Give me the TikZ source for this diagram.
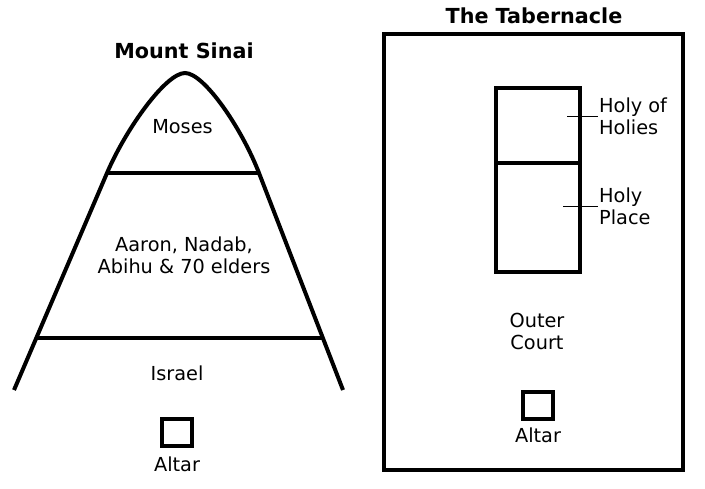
\documentclass[tikz,border=0pt]{standalone}
\usepackage{fontspec}
\setmainfont{DejaVu Sans}
\usetikzlibrary{
    positioning
}
\tikzset{
    heading/.style = {
        font=\fontsize{20.7}{24}\selectfont\bfseries,
        anchor=base,
        inner sep=0pt
    },
    tag/.style = {
        font=\fontsize{19.3}{22}\selectfont,
        align=center,
        inner sep=1pt
    },
    sidetag/.style = {
        tag,
        align=left,
        anchor=west
    },
    wall/.style = {
        line width=4pt
    },
    altarbox/.style = {
        rectangle,
        draw,
        line width=4pt,
        minimum width=30pt,
        minimum height=27pt,
        inner sep=0pt
    },
    leader/.style = {
        line width=0.9pt
    }
}

\begin{document}
\begin{tikzpicture}[x=1pt,y=-1pt]
\useasboundingbox (0,0) rectangle (705,488);
\draw[wall] (14,390) -- (107,173)
    .. controls (126.4,128) and (166,73) .. (185,73)
    .. controls (204,73) and (241.6,128) .. (259,173) -- (343,390);
\draw[wall] (107,173) -- (259,173);
\draw[wall] (37,338) -- (323,338);
\node[heading] (sinai) at (184,58) {Mount Sinai};
\node[tag] (moses) at (182.5,127) {Moses};
\node[tag] (elders) at (184,255) {Aaron, Nadab,\\Abihu \& 70 elders};
\node[tag] (israel) at (177,373) {Israel};
\node[altarbox] (altarL) at (177,432.5) {};
\node[tag, below=8pt of altarL] (altarLtxt) {Altar};

\draw[wall] (384,34) rectangle (683,470);
\draw[wall] (496,88) rectangle (580,272);
\draw[wall] (496,163) -- (580,163);
\node[heading] (tab) at (534,23) {The Tabernacle};
\node[sidetag] (hoh) at (598,116) {Holy of\\Holies};
\node[sidetag] (hp) at (598,206) {Holy\\Place};
\coordinate (hohtip) at (567,116);
\coordinate (hptip) at (563,206);
\draw[leader] (hohtip) -- (hoh.west);
\draw[leader] (hptip) -- (hp.west);
\node[tag] (court) at (537,331) {Outer\\Court};
\node[altarbox] (altarR) at (538,405) {};
\node[tag, below=6pt of altarR] (altarRtxt) {Altar};
\end{tikzpicture}
\end{document}
